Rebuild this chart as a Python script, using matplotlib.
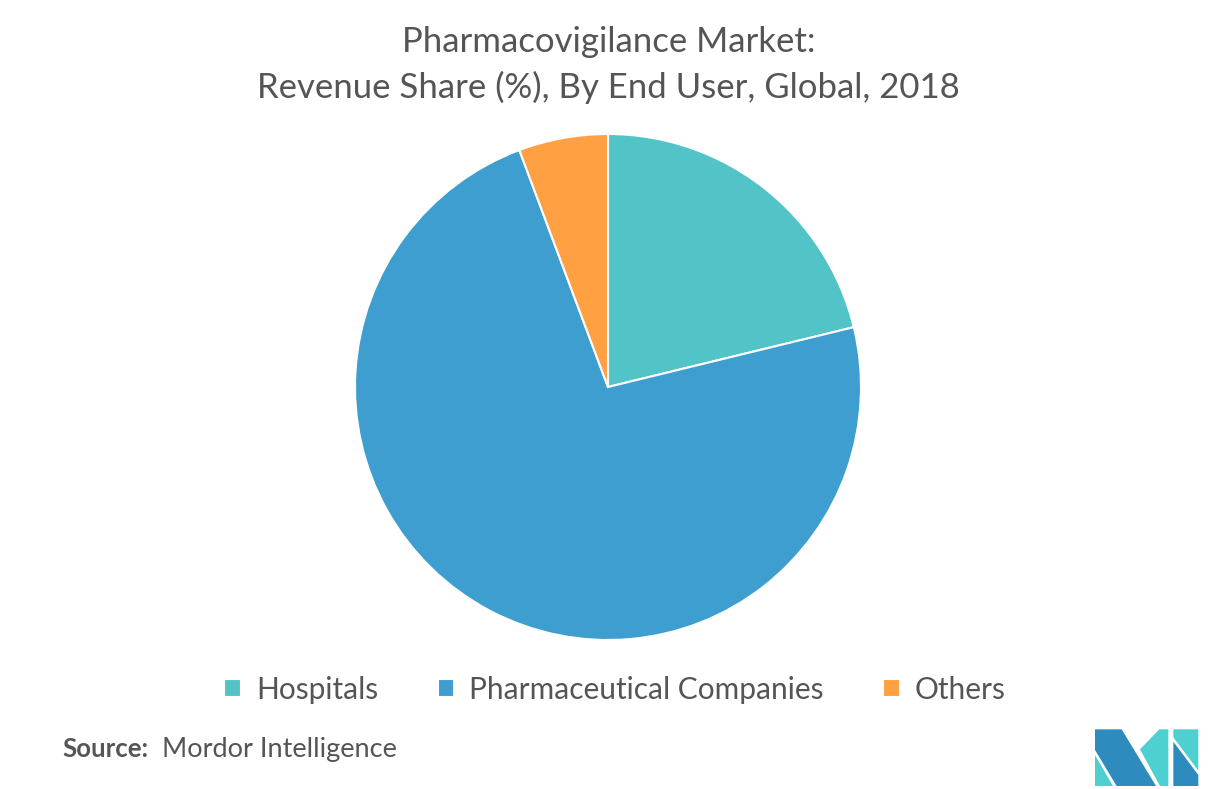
import matplotlib.pyplot as plt
from matplotlib.patches import Polygon

labels = ['Hospitals', 'Pharmaceutical Companies', 'Others']
shares = [21.2, 73.1, 5.7]
colors = ['#52C4C8', '#3D9ECF', '#FFA043']

plt.rcParams['font.family'] = ['Lato', 'DejaVu Sans']

W, H = 1217, 789
fig = plt.figure(figsize=(W / 100, H / 100), dpi=100)

# pie axes: centre (608, 387), radius 253 px
cx, cy, r = 608, 387, 253
ax = fig.add_axes([(cx - r) / W, (H - cy - r) / H, 2 * r / W, 2 * r / H])
wedges, _ = ax.pie(shares, colors=colors, startangle=90, counterclock=False,
                   radius=1, wedgeprops=dict(edgecolor='white', linewidth=1.5))
ax.set_xlim(-1, 1)
ax.set_ylim(-1, 1)
ax.set_aspect('equal')
ax.axis('off')

fig.text(0.5, 1 - 42 / H, 'Pharmacovigilance Market:', ha='center', va='center',
         fontsize=25, color='#555555')
fig.text(0.5, 1 - 87 / H, 'Revenue Share (%), By End User, Global, 2018', ha='center',
         va='center', fontsize=25, color='#555555')

fig.legend(wedges, labels, loc='center', bbox_to_anchor=(615 / W, 1 - 690 / H),
           ncol=3, frameon=False, fontsize=21.5, labelcolor='#555555',
           handlelength=0.55, handleheight=0.55, handletextpad=0.5, columnspacing=2.0)

fig.text(62 / W, 1 - 749 / H, 'Source:', ha='left', va='center', fontsize=18.5,
         fontweight='bold', color='#555555')
fig.text(162 / W, 1 - 749 / H, 'Mordor Intelligence', ha='left', va='center',
         fontsize=19.5, color='#555555')

# logo (pixel coordinates from the picture)
def px(pts):
    return [((1080 + x / 3) / W, 1 - (710 + y / 3) / H) for x, y in pts]

logo = [
    ([(45, 58), (125, 58), (228, 228), (110, 228), (45, 120)], '#2E8BBE'),
    ([(45, 135), (45, 228), (98, 228)], '#4ECFD0'),
    ([(180, 118), (238, 58), (265, 58), (265, 228), (240, 228)], '#4ECFD0'),
    ([(280, 58), (355, 58), (355, 182), (280, 82)], '#4ECFD0'),
    ([(280, 95), (355, 195), (355, 228), (280, 228)], '#2E8BBE'),
]
for pts, c in logo:
    fig.patches.append(Polygon(px(pts), closed=True, facecolor=c, edgecolor='none',
                               transform=fig.transFigure))

plt.savefig('out.png', dpi=100)
